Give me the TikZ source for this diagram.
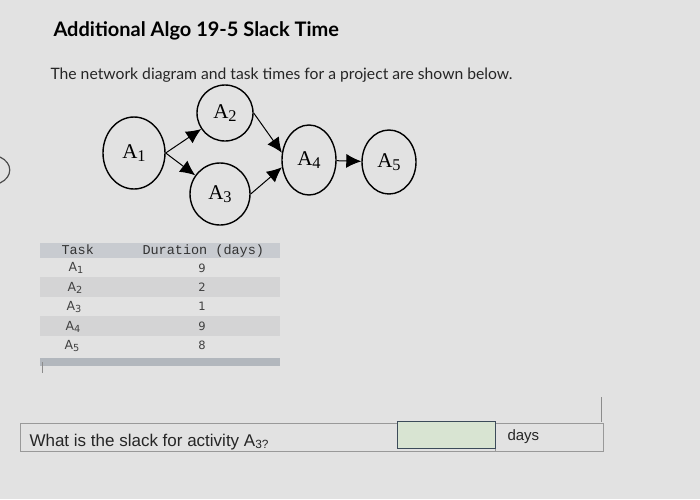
\documentclass[tikz,border=0pt]{standalone}
\usepackage{fontspec}
\setmainfont{Liberation Serif}
\newfontfamily\headfont{Lato}
\newfontfamily\tabfont{Liberation Mono}
\newfontfamily\cellfont{DejaVu Sans}
\newfontfamily\askfont{Liberation Sans}
\usetikzlibrary{arrows.meta,shapes.geometric}

\definecolor{screenbg}{RGB}{226,226,226}
\definecolor{headband}{RGB}{200,203,208}
\definecolor{rowband}{RGB}{212,212,213}
\definecolor{footband}{RGB}{178,183,189}
\definecolor{inputfill}{RGB}{216,228,210}
\definecolor{inputline}{RGB}{60,75,90}

% lowered index, a bit larger than \textsubscript
\newcommand{\idx}[1]{\raisebox{-0.28ex}{\scalebox{0.78}{#1}}}

\tikzset{
  task/.style={ellipse, draw, line width=1.4pt, inner sep=0pt, font=\fontsize{21}{23}\selectfont},
  arc/.style={-{Latex[length=15pt,width=14pt]}, line width=1pt},
  cell/.style={font=\cellfont\fontsize{11.5}{12}\selectfont, text=black!75},
  tasklabel/.style={cell, font=\cellfont\fontsize{12.5}{13}\selectfont},
}

\begin{document}
\begin{tikzpicture}[x=1pt,y=-1pt]
        % Background
        \fill[screenbg] (0,0) rectangle (700,499);
        \useasboundingbox (0,0) rectangle (700,499);

        % Heading
        \node[anchor=base west, font=\headfont\bfseries\fontsize{20}{22}\selectfont] (title) at (50,36) {Additional Algo 19-5 Slack Time};
        \node[anchor=base west, font=\headfont\fontsize{15.7}{18}\selectfont, text=black!85] (intro) at (47,79) {The network diagram and task times for a project are shown below.};

        % Define activities
        \node[task, minimum width=62pt, minimum height=72pt] (a1) at (134,153) {A\idx{1}};
        \node[task, minimum width=56pt, minimum height=56pt] (a2) at (225,113) {A\idx{2}};
        \node[task, minimum width=60pt, minimum height=62pt] (a3) at (220,194) {A\idx{3}};
        \node[task, minimum width=54pt, minimum height=70pt] (a4) at (309,160) {A\idx{4}};
        \node[task, minimum width=54pt, minimum height=64pt] (a5) at (389,162) {A\idx{5}};

        % Draw precedences
        \draw[arc] (a1.east) -- (a2);
        \draw[arc] (a1.east) -- (a3);
        \draw[arc] (a2.east) -- (a4.165);
        \draw[arc] (a3.east) -- (a4.195);
        \draw[arc] (a4) -- (a5);

        % Table bands
        \fill[headband] (40,243) rectangle (280,258);
        \fill[rowband] (40,277) rectangle (280,297);
        \fill[rowband] (40,316) rectangle (280,336);
        \fill[footband] (40,358) rectangle (280,366);
        \draw[black!45, line width=0.8pt] (42,362) -- (42,373);

        % Table text
        \node[anchor=base west, font=\tabfont\fontsize{13.5}{14}\selectfont, text=black!80] (hTask) at (58,254) {Task};
        \node[anchor=base west, font=\tabfont\fontsize{13.5}{14}\selectfont, text=black!80] (hDur) at (139,254) {Duration (days)};
        \node[tasklabel] (t1) at (76,268) {A\idx{1}};
        \node[tasklabel] (t2) at (75,288) {A\idx{2}};
        \node[tasklabel] (t3) at (74,307) {A\idx{3}};
        \node[tasklabel] (t4) at (73,327) {A\idx{4}};
        \node[tasklabel] (t5) at (72,346) {A\idx{5}};
        \node[cell] (d1) at (202,268) {9};
        \node[cell] (d2) at (202,287) {2};
        \node[cell] (d3) at (202,306) {1};
        \node[cell] (d4) at (202,326) {9};
        \node[cell] (d5) at (202,345) {8};

        % Screen edge
        \draw[black!70, line width=1.2pt] (0,157) .. controls (13,163) and (13,177) .. (0,183);

        % Question row
        \draw[black!45, line width=0.8pt] (601,397) -- (601,422);
        \draw[black!40, line width=0.8pt] (20,423) rectangle (603,451);
        \draw[black!40, line width=0.8pt] (495,422) -- (495,451);
        \node[anchor=base west, font=\askfont\fontsize{17}{19}\selectfont, text=black!85] (ask) at (26,446) {What is the slack for activity A\textsubscript{3?}};
        \node[draw=inputline, fill=inputfill, line width=1pt, minimum width=98pt, minimum height=27pt, inner sep=0pt] (answer) at (446,435) {};
        \node[anchor=base west, font=\askfont\fontsize{15}{17}\selectfont, text=black!85] (unit) at (504,440) {days};
\end{tikzpicture}
\end{document}
